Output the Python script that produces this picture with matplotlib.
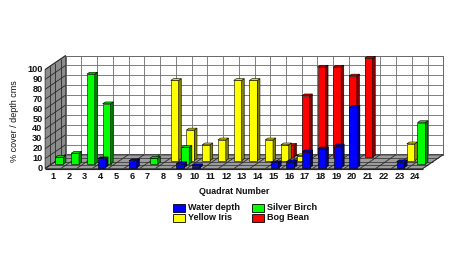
import matplotlib
matplotlib.use("Agg")
import matplotlib.pyplot as plt
from matplotlib.patches import Polygon, Rectangle

# ---------------- data ----------------
quadrats = list(range(1, 25))
water_depth = [0, 0, 0, 9, 0, 7, 0, 0, 4, 2, 0, 0, 0, 0, 5, 6, 16, 19, 22, 61, 0, 0, 6, 0]
silver_birch = [7, 11, 91, 61, 0, 0, 6, 0, 17, 0, 0, 0, 0, 0, 0, 0, 0, 0, 0, 0, 0, 0, 0, 42]
yellow_iris = [0, 0, 0, 0, 0, 0, 0, 81, 31, 16, 21, 81, 81, 21, 16, 5, 0, 0, 0, 0, 0, 0, 17, 0]
bog_bean = [0, 0, 0, 0, 0, 0, 0, 0, 0, 0, 0, 0, 0, 0, 12, 62, 91, 91, 82, 100, 0, 0, 0, 0]
series_names = ["Water depth", "Silver Birch", "Yellow Iris", "Bog Bean"]
series_values = [water_depth, silver_birch, yellow_iris, bog_bean]
y_ticks = list(range(0, 101, 10))

# styles (front, side, top)
colors = {
    "Water depth": ("#0000ff", "#000080", "#0000d8"),
    "Silver Birch": ("#00ff00", "#008000", "#00d800"),
    "Yellow Iris": ("#ffff00", "#808000", "#e0e000"),
    "Bog Bean": ("#ff0000", "#800000", "#d80000"),
}

W, H = 474, 264
fig = plt.figure(figsize=(W / 100, H / 100), dpi=100)
ax = fig.add_axes([0, 0, 1, 1])
PX_CAT = 15.74
PX_VAL = 0.99
xmin = 1 - 53 / PX_CAT
ymin = -(H - 168.5) / PX_VAL
ax.set_xlim(xmin, xmin + W / PX_CAT)
ax.set_ylim(ymin, ymin + H / PX_VAL)
ax.axis("off")

DXC = 20.5 / PX_CAT
DYV = 14.0 / PX_VAL
X0, X1 = 0.5, 24.5
VMAX = 100


def P(x, v, d):
    return (x + d * DXC, v + d * DYV)


def poly(pts, fc, ec="black", lw=0.5, z=1):
    ax.add_patch(Polygon([P(*p) for p in pts], closed=True, facecolor=fc,
                         edgecolor=ec, linewidth=lw, zorder=z))


def line(p0, p1, color, lw=0.5, z=1.5):
    a, b = P(*p0), P(*p1)
    ax.plot([a[0], b[0]], [a[1], b[1]], color=color, lw=lw, zorder=z,
            solid_capstyle="butt")


# back wall
poly([(X0, 0, 1), (X1, 0, 1), (X1, VMAX, 1), (X0, VMAX, 1)], "white", "#555555", 0.6)
for v in y_ticks:
    line((X0, v, 1), (X1, v, 1), "#6a6a6a", 0.6)
for k in range(25):
    line((X0 + k, 0, 1), (X0 + k, VMAX, 1), "#6a6a6a", 0.6)

# left wall
poly([(X0, 0, 0), (X0, 0, 1), (X0, VMAX, 1), (X0, VMAX, 0)], "#8c8c8c", "#333333", 0.6)
for v in y_ticks:
    line((X0, v, 0), (X0, v, 1), "#2a2a2a", 0.6)
for d in (0.25, 0.5, 0.75):
    line((X0, 0, d), (X0, VMAX, d), "#2a2a2a", 0.6)

# floor
poly([(X0, 0, 0), (X1, 0, 0), (X1, 0, 1), (X0, 0, 1)], "#9c9c9c", "#333333", 0.6)
for k in range(25):
    line((X0 + k, 0, 0), (X0 + k, 0, 1), "#2a2a2a", 0.6)
for d in (0.25, 0.5, 0.75):
    line((X0, 0, d), (X1, 0, d), "#2a2a2a", 0.5)
line((X0, 0, 0), (X1, 0, 0), "#222222", 0.8)

# bars, back row first
HW = 0.25
for r in range(3, -1, -1):
    name = series_names[r]
    fc, sc, tc = colors[name]
    d0, d1 = r / 4 + 0.06, r / 4 + 0.19
    for q, v in zip(quadrats, series_values[r]):
        if v <= 0:
            continue
        xl, xr = q - HW, q + HW
        poly([(xl, 0, d0), (xr, 0, d0), (xr, v, d0), (xl, v, d0)], fc, "black", 0.4, 2)
        poly([(xr, 0, d0), (xr, 0, d1), (xr, v, d1), (xr, v, d0)], sc, "black", 0.4, 2)
        poly([(xl, v, d0), (xr, v, d0), (xr, v, d1), (xl, v, d1)], tc, "black", 0.4, 2)

FONT = ["Liberation Sans", "DejaVu Sans"]
# y tick labels
for v in y_ticks:
    ax.text(X0 - 0.17, v, str(v), ha="right", va="center", fontsize=6.6,
            fontweight="bold", family=FONT, color="#111111")
# x tick labels
for q in quadrats:
    ax.text(q, -7.8, str(q), ha="center", va="center", fontsize=6.6,
            fontweight="bold", family=FONT, color="#111111")

ax.text(12.5, -23.7, "Quadrat Number", ha="center", va="center", fontsize=6.4,
        fontweight="bold", family=FONT, color="#111111")
ax.text(1 + (15 - 53) / PX_CAT, 48, "% cover / depth cms", ha="center", va="center",
        rotation=90, fontsize=6.5, family=FONT, color="#111111")

# legend (manual, pixel positions)
def px2fig(x, y):
    return x / W, 1 - y / H

legend_layout = [("Water depth", 173, 208), ("Yellow Iris", 173, 218),
                 ("Silver Birch", 252, 208), ("Bog Bean", 252, 218)]
for name, lx, ly in legend_layout:
    fx, fy = px2fig(lx, ly + 4)
    fig.patches.append(Rectangle((fx, fy), 12 / W, 8 / H, transform=fig.transFigure,
                                 facecolor=colors[name][0], edgecolor="black", linewidth=0.6))
    tx, ty = px2fig(lx + 15, ly)
    fig.text(tx, ty, name, ha="left", va="center", fontsize=6.5, fontweight="bold",
             family=FONT, color="#111111")

fig.savefig("out.png", dpi=100)
